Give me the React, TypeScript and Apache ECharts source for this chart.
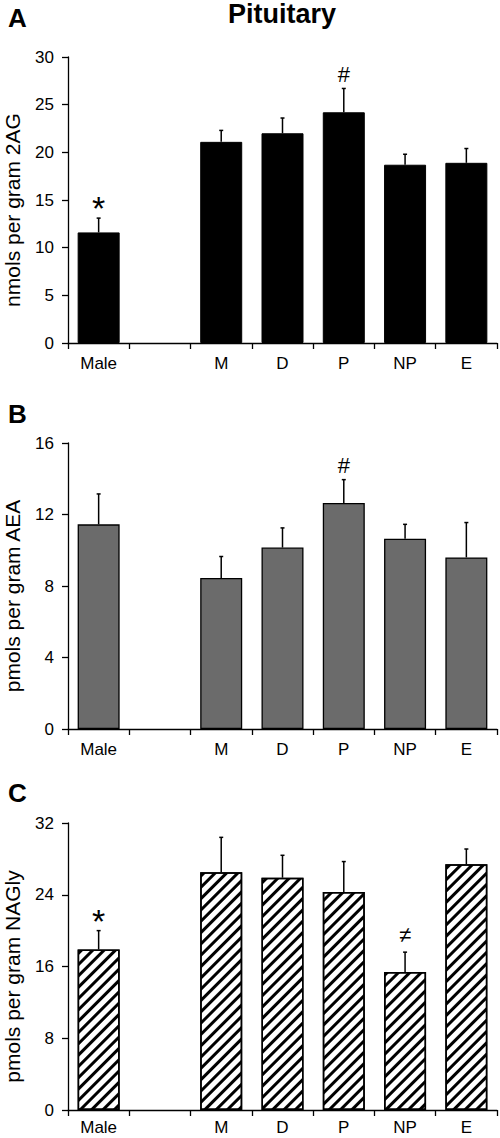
import React, { useRef, useEffect } from 'react'
import * as echarts from 'echarts'

// categories (the second slot is an empty gap in the original figure)
const categories = ['Male', '', 'M', 'D', 'P', 'NP', 'E']

// panel A: 2AG (nmols per gram)
const aMeans = [11.6, null, 21.1, 22.0, 24.2, 18.7, 18.9]
const aErrors = [1.5, null, 1.2, 1.6, 2.5, 1.1, 1.5]
const aMarks = ['*', '', '', '', '#', '', '']

// panel B: AEA (pmols per gram)
const bMeans = [11.45, null, 8.45, 10.15, 12.65, 10.65, 9.6]
const bErrors = [1.7, null, 1.2, 1.1, 1.3, 0.8, 1.95]
const bMarks = ['', '', '', '', '#', '', '']

// panel C: NAGly (pmols per gram)
const cMeans = [17.9, null, 26.5, 25.9, 24.3, 15.4, 27.4]
const cErrors = [2.1, null, 3.9, 2.5, 3.4, 2.2, 1.7]
const cMarks = ['*', '', '', '', '', '≠', '']

const FONT = '"Liberation Sans", Arial, sans-serif'

const App: React.FC = () => {
  const chartRef = useRef<HTMLDivElement>(null)

  useEffect(() => {
    if (!chartRef.current) return
    const chart = echarts.init(chartRef.current, null, { renderer: 'svg' })

    const panels = [
      { top: 57, height: 286, max: 30, interval: 5, labelMargin: 12, name: 'nmols per gram 2AG', means: aMeans, errors: aErrors, marks: aMarks, style: { color: '#000', borderColor: '#000', borderWidth: 1 } },
      { top: 443, height: 286, max: 16, interval: 4, labelMargin: 12, name: 'pmols per gram AEA', means: bMeans, errors: bErrors, marks: bMarks, style: { color: '#6b6b6b', borderColor: '#000', borderWidth: 1.3 } },
      {
        top: 823, height: 287, max: 32, interval: 8, labelMargin: 9, name: 'pmols per gram NAGly', means: cMeans, errors: cErrors, marks: cMarks,
        style: {
          color: '#fff', borderColor: '#000', borderWidth: 1.5,
          decal: { symbol: 'rect', symbolSize: 1, dashArrayX: [1, 0], dashArrayY: [2.2, 5], rotation: -Math.PI / 4, color: '#000' },
        },
      },
    ]

    const axisLineStyle = { color: '#000', width: 1.3 }

    const option: any = {
      animation: false,
      textStyle: { fontFamily: FONT },
      graphic: [
        { type: 'text', left: 8, top: 5, style: { text: 'A', font: `bold 26px ${FONT}`, fill: '#000' } },
        { type: 'text', left: 228, top: 0, style: { text: 'Pituitary', font: `bold 27px ${FONT}`, fill: '#000' } },
        { type: 'text', left: 8, top: 401, style: { text: 'B', font: `bold 26px ${FONT}`, fill: '#000' } },
        { type: 'text', left: 8, top: 780, style: { text: 'C', font: `bold 26px ${FONT}`, fill: '#000' } },
      ],
      grid: panels.map((p) => ({ left: 68, width: 429, top: p.top, height: p.height, outerBoundsMode: 'none' })),
      xAxis: panels.map((p, k) => ({
        type: 'category',
        gridIndex: k,
        data: categories,
        boundaryGap: true,
        axisLine: { lineStyle: axisLineStyle },
        axisTick: { show: true, length: 6, interval: 0, alignWithLabel: false, lineStyle: axisLineStyle },
        axisLabel: { interval: 0, color: '#000', fontSize: 17, lineHeight: 17, fontFamily: FONT, margin: p.labelMargin },
        splitLine: { show: false },
      })),
      yAxis: panels.map((p, k) => ({
        type: 'value',
        gridIndex: k,
        min: 0,
        max: p.max,
        interval: p.interval,
        name: p.name,
        nameLocation: 'middle',
        nameRotate: 90,
        nameGap: 45,
        nameTextStyle: { color: '#000', fontSize: 21, lineHeight: 21, fontFamily: FONT, padding: [0, 20, 0, 0] },
        axisLine: { show: true, lineStyle: axisLineStyle },
        axisTick: { show: true, length: 6, lineStyle: axisLineStyle },
        axisLabel: { color: '#000', fontSize: 17, fontFamily: FONT, margin: 14 },
        splitLine: { show: false },
      })),
      series: panels.flatMap((p, k) => [
        {
          type: 'bar',
          xAxisIndex: k,
          yAxisIndex: k,
          barWidth: 42,
          data: p.means.map((v) => (v == null ? '-' : v)),
          itemStyle: p.style,
          z: 2,
        },
        {
          type: 'custom',
          xAxisIndex: k,
          yAxisIndex: k,
          z: 3,
          encode: { x: 0, y: [1, 2] },
          data: p.means
            .map((v, i) => (v == null ? null : [i, v, v + (p.errors[i] as number)]))
            .filter((d) => d != null),
          renderItem: (params: any, api: any) => {
            const i = api.value(0)
            const base = api.coord([i, api.value(1)])
            const top = api.coord([i, api.value(2)])
            const mark = p.marks[i]
            const children: any[] = [
              { type: 'line', shape: { x1: base[0], y1: base[1], x2: top[0], y2: top[1] }, style: { stroke: '#000', lineWidth: 1.5 } },
              { type: 'line', shape: { x1: top[0] - 2, y1: top[1], x2: top[0] + 2, y2: top[1] }, style: { stroke: '#000', lineWidth: 1.5 } },
            ]
            if (mark) {
              const isStar = mark === '*'
              children.push({
                type: 'text',
                x: top[0],
                y: top[1] - (isStar ? 10 : mark === '≠' ? 18 : 14),
                style: {
                  text: mark,
                  font: `${isStar ? 34 : 22}px ${FONT}`,
                  fill: '#000',
                  align: 'center',
                  verticalAlign: 'middle',
                },
              })
            }
            return { type: 'group', children }
          },
        },
      ]),
    }

    chart.setOption(option)

    return () => {
      chart.dispose()
    }
  }, [])

  return (
    <div
      ref={chartRef}
      style={{ position: 'absolute', left: 0, top: 0, width: '500px', height: '1138px', background: '#fff' }}
    />
  )
}

export default App
